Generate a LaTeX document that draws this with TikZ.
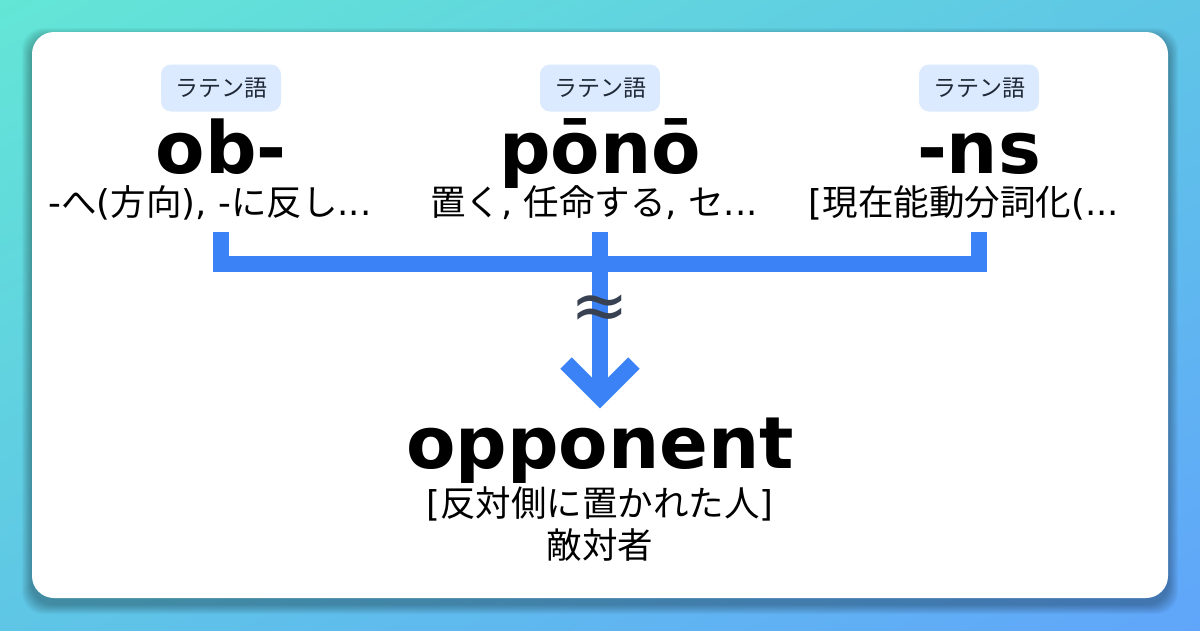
\documentclass[tikz,border=0pt]{standalone}
\usepackage{fontspec}
\setmainfont{DejaVu Sans}
\newfontfamily\jp{Noto Sans CJK JP}
\usetikzlibrary{shadings}
\definecolor{bgTeal}{HTML}{63E6D6}
\definecolor{bgBlue}{HTML}{60A5FA}
\definecolor{bgMid}{HTML}{5FC6E6}
\definecolor{linkBlue}{HTML}{3B82F6}
\definecolor{tagFill}{HTML}{DBEAFE}
\definecolor{tagText}{HTML}{1F2937}
\definecolor{approxGray}{HTML}{374151}

\begin{document}
\begin{tikzpicture}[x=1pt,y=-1pt,
	tag/.style={fill=tagFill,rounded corners=10pt,minimum width=120pt,minimum height=47pt,inner sep=0pt,text=tagText,font=\jp\fontsize{23}{26}\selectfont},
	word/.style={anchor=base,font=\bfseries\fontsize{72}{80}\selectfont},
	gloss/.style={anchor=base,font=\fontsize{35.5}{42}\selectfont},
	link/.style={draw=linkBlue,line width=16pt,line join=miter}]
	\useasboundingbox (0,0) rectangle (1200,630);
	\shade[upper left=bgTeal,lower right=bgBlue,upper right=bgMid,lower left=bgMid] (0,0) rectangle (1200,630);
	% card with soft shadow
	\foreach \i in {1,...,10}
		\fill[black,opacity=.03,rounded corners=22pt] (32-\i,38-\i) rectangle (1168+\i,604+\i);
	\fill[white,rounded corners=22pt] (32,32) rectangle (1168,598);

	\node[tag] (tagob) at (221,88) {ラテン語};
	\node[tag] (tagpono) at (600,88) {ラテン語};
	\node[tag] (tagns) at (979,88) {ラテン語};

	\node[word] (ob) at (221,173) {ob-};
	\node[word] (pono) at (600,173) {pōnō};
	\node[word] (ns) at (979,173) {-ns};
	\node[gloss] (obgloss) at (210,215) {-{\jp へ}({\jp 方向}), -{\jp に反し}...};
	\node[gloss] (ponogloss) at (594,215) {{\jp 置く}, {\jp 任命する}, {\jp セ}...};
	\node[gloss] (nsgloss) at (964,215) {[{\jp 現在能動分詞化}(...};

	\coordinate (obend) at (221,232);
	\coordinate (ponoend) at (600,232);
	\coordinate (nsend) at (979,232);
	\coordinate (bar) at (600,264);
	\coordinate (tip) at (600,397);
	\draw[link] (obend) |- (bar) -| (nsend);
	\draw[link] (ponoend) -- (tip);
	\draw[link] (tip) ++(-34,-34) -- (tip) -- ++(34,-34);
	\node[text=approxGray,font=\fontsize{70}{72}\selectfont] (approx) at (600,312) {≈};

	\node[word] (opp) at (600,468) {opponent};
	\node[gloss] (oppgloss) at (600,516) {[{\jp 反対側に置かれた人}]};
	\node[gloss] (oppmeaning) at (600,558) {\jp 敵対者};
\end{tikzpicture}
\end{document}
